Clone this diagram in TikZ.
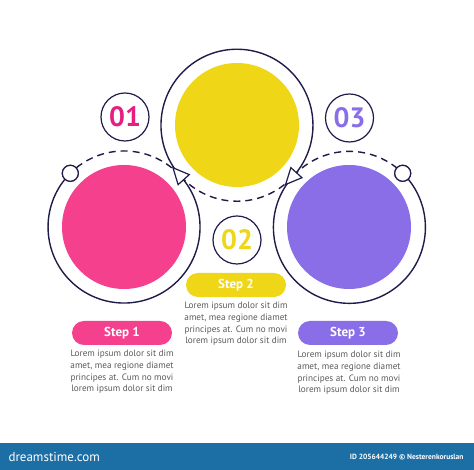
\documentclass[tikz,border=0pt]{standalone}
\usepackage{fontspec}
\setmainfont{PT Sans}
\usetikzlibrary{shapes.geometric}

\definecolor{pinkc}{HTML}{F5408D}
\definecolor{pinkt}{HTML}{E61E82}
\definecolor{yellowc}{HTML}{EFD616}
\definecolor{purplec}{HTML}{8A6EE8}
\definecolor{ringc}{HTML}{1F1C4C}
\definecolor{textc}{HTML}{5A5A5A}
\definecolor{barc}{HTML}{1C6FA5}

\begin{document}
\begin{tikzpicture}[x=1pt,y=1pt]

\tikzset{bigcirc/.style = {shape=circle,minimum size=124pt,inner sep=0pt}}
\tikzset{numcirc/.style = {shape=circle,draw=ringc,line width=1.2pt,fill=white,minimum size=48pt,inner sep=0pt,font=\fontsize{28}{28}\selectfont\bfseries}}
\tikzset{ring/.style = {draw=ringc,line width=1.4pt}}
\tikzset{ringdash/.style = {ring,dash pattern=on 7pt off 5pt}}
\tikzset{dotc/.style = {shape=circle,draw=ringc,line width=1.2pt,fill=white,minimum size=16pt,inner sep=0pt}}
\tikzset{arrowtri/.style = {isosceles triangle,isosceles triangle stretches,draw=ringc,line width=1.2pt,fill=white,minimum width=15pt,minimum height=16pt,inner sep=0pt}}
\tikzset{pill/.style = {rounded corners=12pt,minimum width=100pt,minimum height=24pt,inner sep=0pt,text=white,font=\fontsize{13}{13}\selectfont\bfseries}}
\tikzset{desc/.style = {align=center,text=textc,inner sep=0pt,font=\fontsize{9.2}{11.7}\selectfont}}

\useasboundingbox (0,0) rectangle (474,470);
\fill[white] (0,0) rectangle (474,470);

%circles
\node[bigcirc, fill=pinkc] (pink) at (124,243) {};
\node[bigcirc, fill=yellowc] (yellow) at (237,345) {};
\node[bigcirc, fill=purplec] (purple) at (349,243) {};
\coordinate (tL) at (180.5,293.9);
\coordinate (tR) at (293.2,293.8);
\node[dotc] (dotL) at (70.3,296.7) {};
\node[dotc] (dotR) at (402.7,296.7) {};

%rings
\draw[ring] (dotL.center) arc[start angle=135, end angle=402, radius=76];
\draw[ringdash] (tL) arc[start angle=42, end angle=135, radius=76];
\draw[ring] (tL) arc[start angle=222, end angle=-42.3, radius=76];
\draw[ringdash] (tL) arc[start angle=222, end angle=317.7, radius=76];
\draw[ring] (tR) arc[start angle=137.7, end angle=405, radius=76];
\draw[ringdash] (tR) arc[start angle=137.7, end angle=45, radius=76];
\node[dotc] at (dotL) {};
\node[dotc] at (dotR) {};
\node[arrowtri, rotate=132] (arrL) at (tL) {};
\node[arrowtri, rotate=-132.3] (arrR) at (tR) {};

%numbers
\node[numcirc, text=pinkt] (n1) at (125,353) {01};
\node[numcirc, text=yellowc] (n2) at (237,230) {02};
\node[numcirc, text=purplec] (n3) at (349.5,352) {03};

%steps
\node[pill, fill=pinkc] (s1) at (122,137) {Step 1};
\node[pill, fill=yellowc] (s2) at (236,185) {Step 2};
\node[pill, fill=purplec] (s3) at (348,137) {Step 3};
\node[desc] (d1) at (122,98) {Lorem ipsum dolor sit dim\\amet, mea regione diamet\\principes at. Cum no movi\\lorem ipsum dolor sit dim};
\node[desc] (d2) at (236,146) {Lorem ipsum dolor sit dim\\amet, mea regione diamet\\principes at. Cum no movi\\lorem ipsum dolor sit dim};
\node[desc] (d3) at (349,97) {Lorem ipsum dolor sit dim\\amet, mea regione diamet\\principes at. Cum no movi\\lorem ipsum dolor sit dim};

%bar
\fill[barc] (0,0) rectangle (474,27);
\node[anchor=west, text=white, font=\fontsize{13}{13}\selectfont] (site) at (5,13) {dreamstime.com};
\node[anchor=east, text=white, font=\fontsize{7.5}{7.5}\selectfont\bfseries] (credit) at (467,13) {ID 205644249 © Nesterenkoruslan};

\end{tikzpicture}
\end{document}
